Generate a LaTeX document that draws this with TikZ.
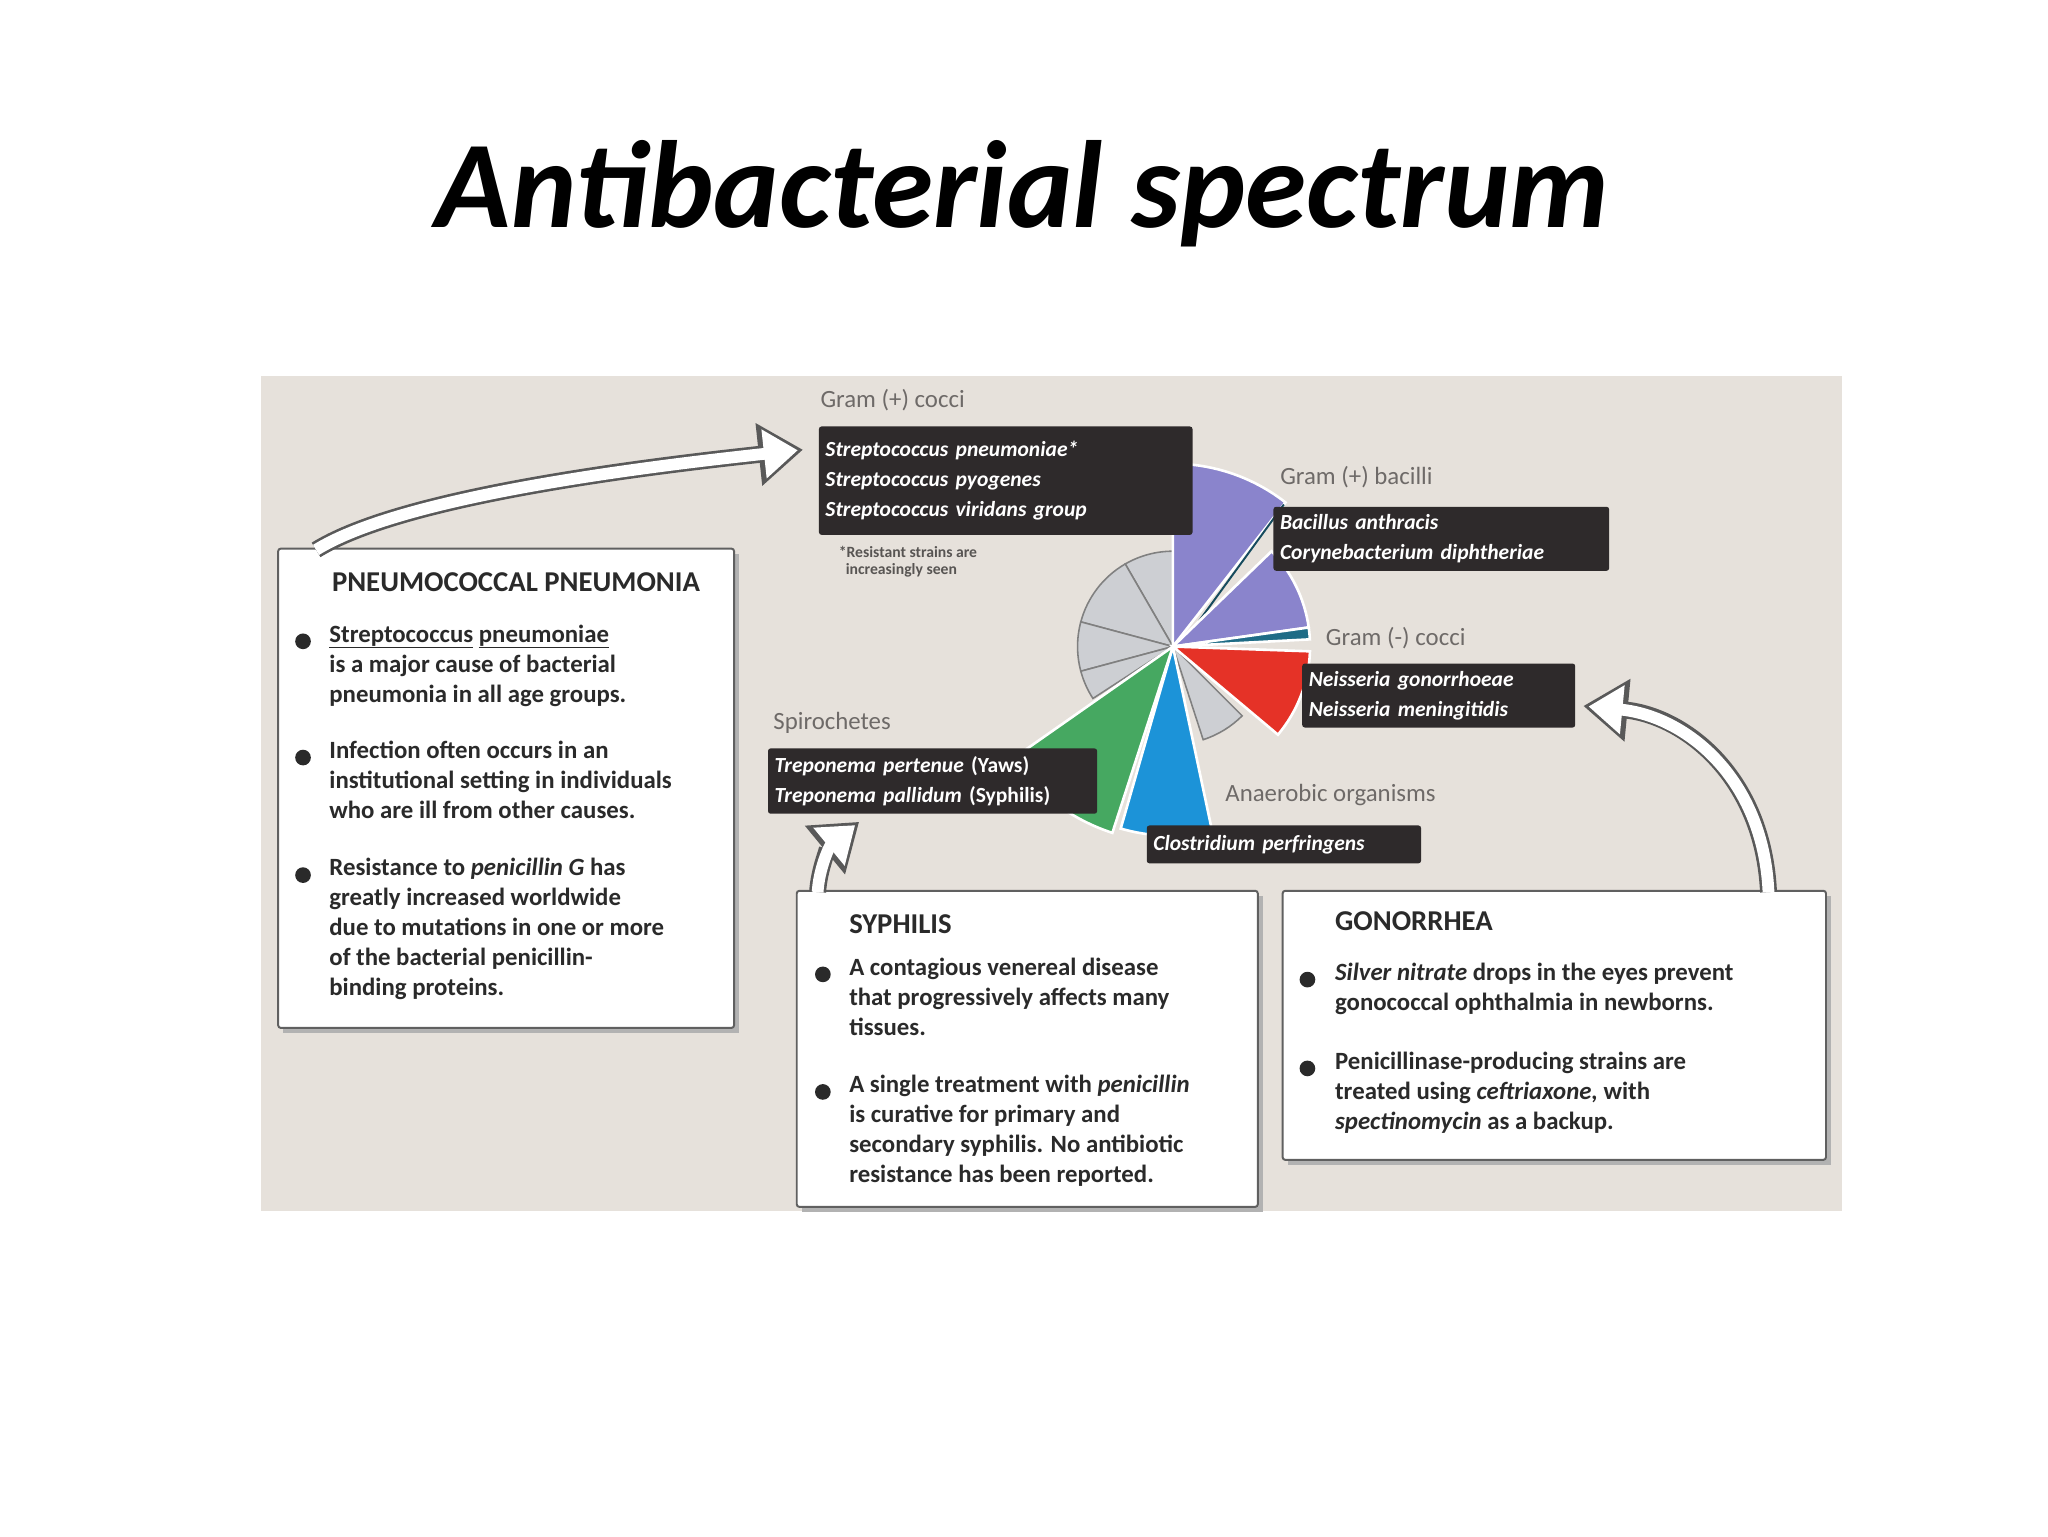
\documentclass[tikz,border=0pt]{standalone}
\usepackage{fontspec}
\setmainfont{Carlito}
\usetikzlibrary{arrows.meta}
\definecolor{bgc}{HTML}{E6E1DB}
\definecolor{dbx}{HTML}{2E2A2B}
\definecolor{pur}{HTML}{8A84CC}
\definecolor{tealc}{HTML}{1F6C86}
\definecolor{redc}{HTML}{E53227}
\definecolor{bluc}{HTML}{1C93D8}
\definecolor{grn}{HTML}{46A861}
\definecolor{gwed}{HTML}{CDCFD3}
\definecolor{lbl}{HTML}{6E6A68}
\definecolor{txt}{HTML}{2A2A2A}
\tikzset{
 dbox/.style={fill=dbx,text=white,rounded corners=2,inner sep=5,align=left,font=\fontsize{16.5}{23}\selectfont\bfseries\itshape},
 wbox/.style={draw=gray!75!black,line width=1.5,fill=white,rounded corners=2},
 glbl/.style={anchor=north west,inner sep=0,text=lbl,font=\fontsize{19}{22}\selectfont},
 para/.style={anchor=north west,inner sep=0,align=left,text=txt,font=\fontsize{19}{23}\selectfont\bfseries},
 head/.style={anchor=north west,inner sep=0,text=txt,font=\fontsize{22}{24}\selectfont\bfseries},
 bul/.style={circle,fill=txt,inner sep=0,minimum size=12},
 gw/.style={fill=gwed,draw=gray,line width=1.2},
 cw/.style={draw=white,line width=2},
 arrg/.style={draw=gray!70!black,line width=13,-{Triangle[length=34,width=46]}},
 arrw/.style={draw=white,line width=9,shorten >=4,-{Triangle[length=26,width=36]}}
}
\begin{document}
\begin{tikzpicture}[x=1pt,y=-1pt]
\useasboundingbox (0,0) rectangle (1568,1176);
\fill[white] (0,0) rectangle (1568,1176);
\fill[bgc] (200,288) rectangle (1410,927);
\node[font=\fontsize{95}{100}\selectfont\bfseries\itshape] (title) at (783,148) {Antibacterial spectrum};

% pie
\begin{scope}[shift={(898,495)},yscale=-1]
\filldraw[gw] (0,0) -- (90:73) arc[start angle=90,end angle=120,radius=73] -- cycle;
\filldraw[gw] (0,0) -- (120:73) arc[start angle=120,end angle=165,radius=73] -- cycle;
\filldraw[gw] (0,0) -- (165:73) arc[start angle=165,end angle=195,radius=73] -- cycle;
\filldraw[gw] (0,0) -- (195:73) arc[start angle=195,end angle=213,radius=73] -- cycle;
\filldraw[gw] (0,0) -- (-72:75) arc[start angle=-72,end angle=-45,radius=75] -- cycle;
\filldraw[fill=pur,cw] (0,0) -- (52:140) arc[start angle=52,end angle=90,radius=140] -- cycle;
\draw[tealc!70!black,line width=1.5] (3:6) -- (52:138);
\filldraw[fill=pur,cw] (0,0) -- (8:105) arc[start angle=8,end angle=44,radius=105] -- cycle;
\filldraw[fill=tealc,cw] (0,0) -- (3:105) arc[start angle=3,end angle=8,radius=105] -- cycle;
\filldraw[fill=redc,cw] (0,0) -- (-40:105) arc[start angle=-40,end angle=-2,radius=105] -- cycle;
\filldraw[fill=bluc,cw] (0,0) -- (-106:145) arc[start angle=-106,end angle=-78,radius=145] -- cycle;
\filldraw[fill=grn,cw] (0,0) -- (-145:150) arc[start angle=-145,end angle=-108,radius=150] -- cycle;
\end{scope}

% labels
\node[glbl] (lc) at (628,298) {Gram (+) cocci};
\node[glbl] (lb) at (980,357) {Gram (+) bacilli};
\node[glbl] (ln) at (1015,480) {Gram (-) cocci};
\node[glbl] (ls) at (592,545) {Spirochetes};
\node[glbl] (la) at (938,600) {Anaerobic organisms};
\node[anchor=north west,inner sep=0,align=left,text=lbl!80!black,font=\fontsize{12}{13}\selectfont\bfseries] (note) at (642,418) {*Resistant strains are\\\ \ increasingly seen};

\node[dbox,minimum width=286,minimum height=83,text width=276] (cocci) at (770,368) {Streptococcus pneumoniae*\\Streptococcus pyogenes\\Streptococcus viridans group};
\node[dbox,minimum width=257,minimum height=49,text width=247] (bac) at (1103.5,412.5) {Bacillus anthracis\\Corynebacterium diphtheriae};
\node[dbox,minimum width=209,minimum height=49,text width=199] (neis) at (1101.5,532.5) {Neisseria gonorrhoeae\\Neisseria meningitidis};
\node[dbox,minimum width=252,minimum height=50,text width=242] (trep) at (714,598) {Treponema pertenue {\upshape(Yaws)}\\Treponema pallidum {\upshape(Syphilis)}};
\node[dbox,minimum width=210,minimum height=29,text width=200] (clos) at (983,646.5) {Clostridium perfringens};

% white boxes
\fill[gray!60] (217,424) rectangle (566,791);
\fill[gray!60] (614,686) rectangle (967,928);
\fill[gray!60] (986,686) rectangle (1402,892);
\node[wbox,minimum width=349,minimum height=367] (pn) at (387.5,603.5) {};
\node[wbox,minimum width=353,minimum height=242] (sy) at (786.5,803) {};
\node[wbox,minimum width=416,minimum height=206] (go) at (1190,785) {};

% arrows
\coordinate (pa) at (242,421);
\coordinate (sa) at (626,683);
\coordinate (ga) at (1354,683);
\draw[arrg] (pa) .. controls (300,385) and (450,362) .. ([shift={(-12,18)}]cocci.north west);
\draw[arrw] (pa) .. controls (300,385) and (450,362) .. ([shift={(-12,18)}]cocci.north west);
\draw[arrg] (sa) .. controls (627,665) and (635,648) .. ([shift={(70,6)}]trep.south west);
\draw[arrw] (sa) .. controls (627,665) and (635,648) .. ([shift={(70,6)}]trep.south west);
\draw[arrg] (ga) .. controls (1350,595) and (1290,548) .. ([shift={(6,8)}]neis.east);
\draw[arrw] (ga) .. controls (1350,595) and (1290,548) .. ([shift={(6,8)}]neis.east);

% pneumo text
\node[head] (h1) at (254,438) {PNEUMOCOCCAL PNEUMONIA};
\node[bul] (b11) at (232,491) {};
\node[para] (p11) at (252,478) {\underline{Streptococcus} \underline{pneumoniae}\\is a major cause of bacterial\\pneumonia in all age groups.};
\node[bul] (b12) at (232,580) {};
\node[para] (p12) at (252,567) {Infection often occurs in an\\institutional setting in individuals\\who are ill from other causes.};
\node[bul] (b13) at (232,670) {};
\node[para] (p13) at (252,657) {Resistance to \textit{penicillin G} has\\greatly increased worldwide\\due to mutations in one or more\\of the bacterial penicillin-\\binding proteins.};

% syphilis text
\node[head] (h2) at (650,700) {SYPHILIS};
\node[bul] (b21) at (630,746) {};
\node[para] (p21) at (650,733) {A contagious venereal disease\\that progressively affects many\\tissues.};
\node[bul] (b22) at (630,836) {};
\node[para] (p22) at (650,823) {A single treatment with \textit{penicillin}\\is curative for primary and\\secondary syphilis. No antibiotic\\resistance has been reported.};

% gonorrhea text
\node[head] (h3) at (1022,698) {GONORRHEA};
\node[bul] (b31) at (1001,750) {};
\node[para] (p31) at (1022,737) {\textit{Silver nitrate} drops in the eyes prevent\\gonococcal ophthalmia in newborns.};
\node[bul] (b32) at (1001,818) {};
\node[para] (p32) at (1022,805) {Penicillinase-producing strains are\\treated using \textit{ceftriaxone,} with\\\textit{spectinomycin} as a backup.};
\end{tikzpicture}
\end{document}
